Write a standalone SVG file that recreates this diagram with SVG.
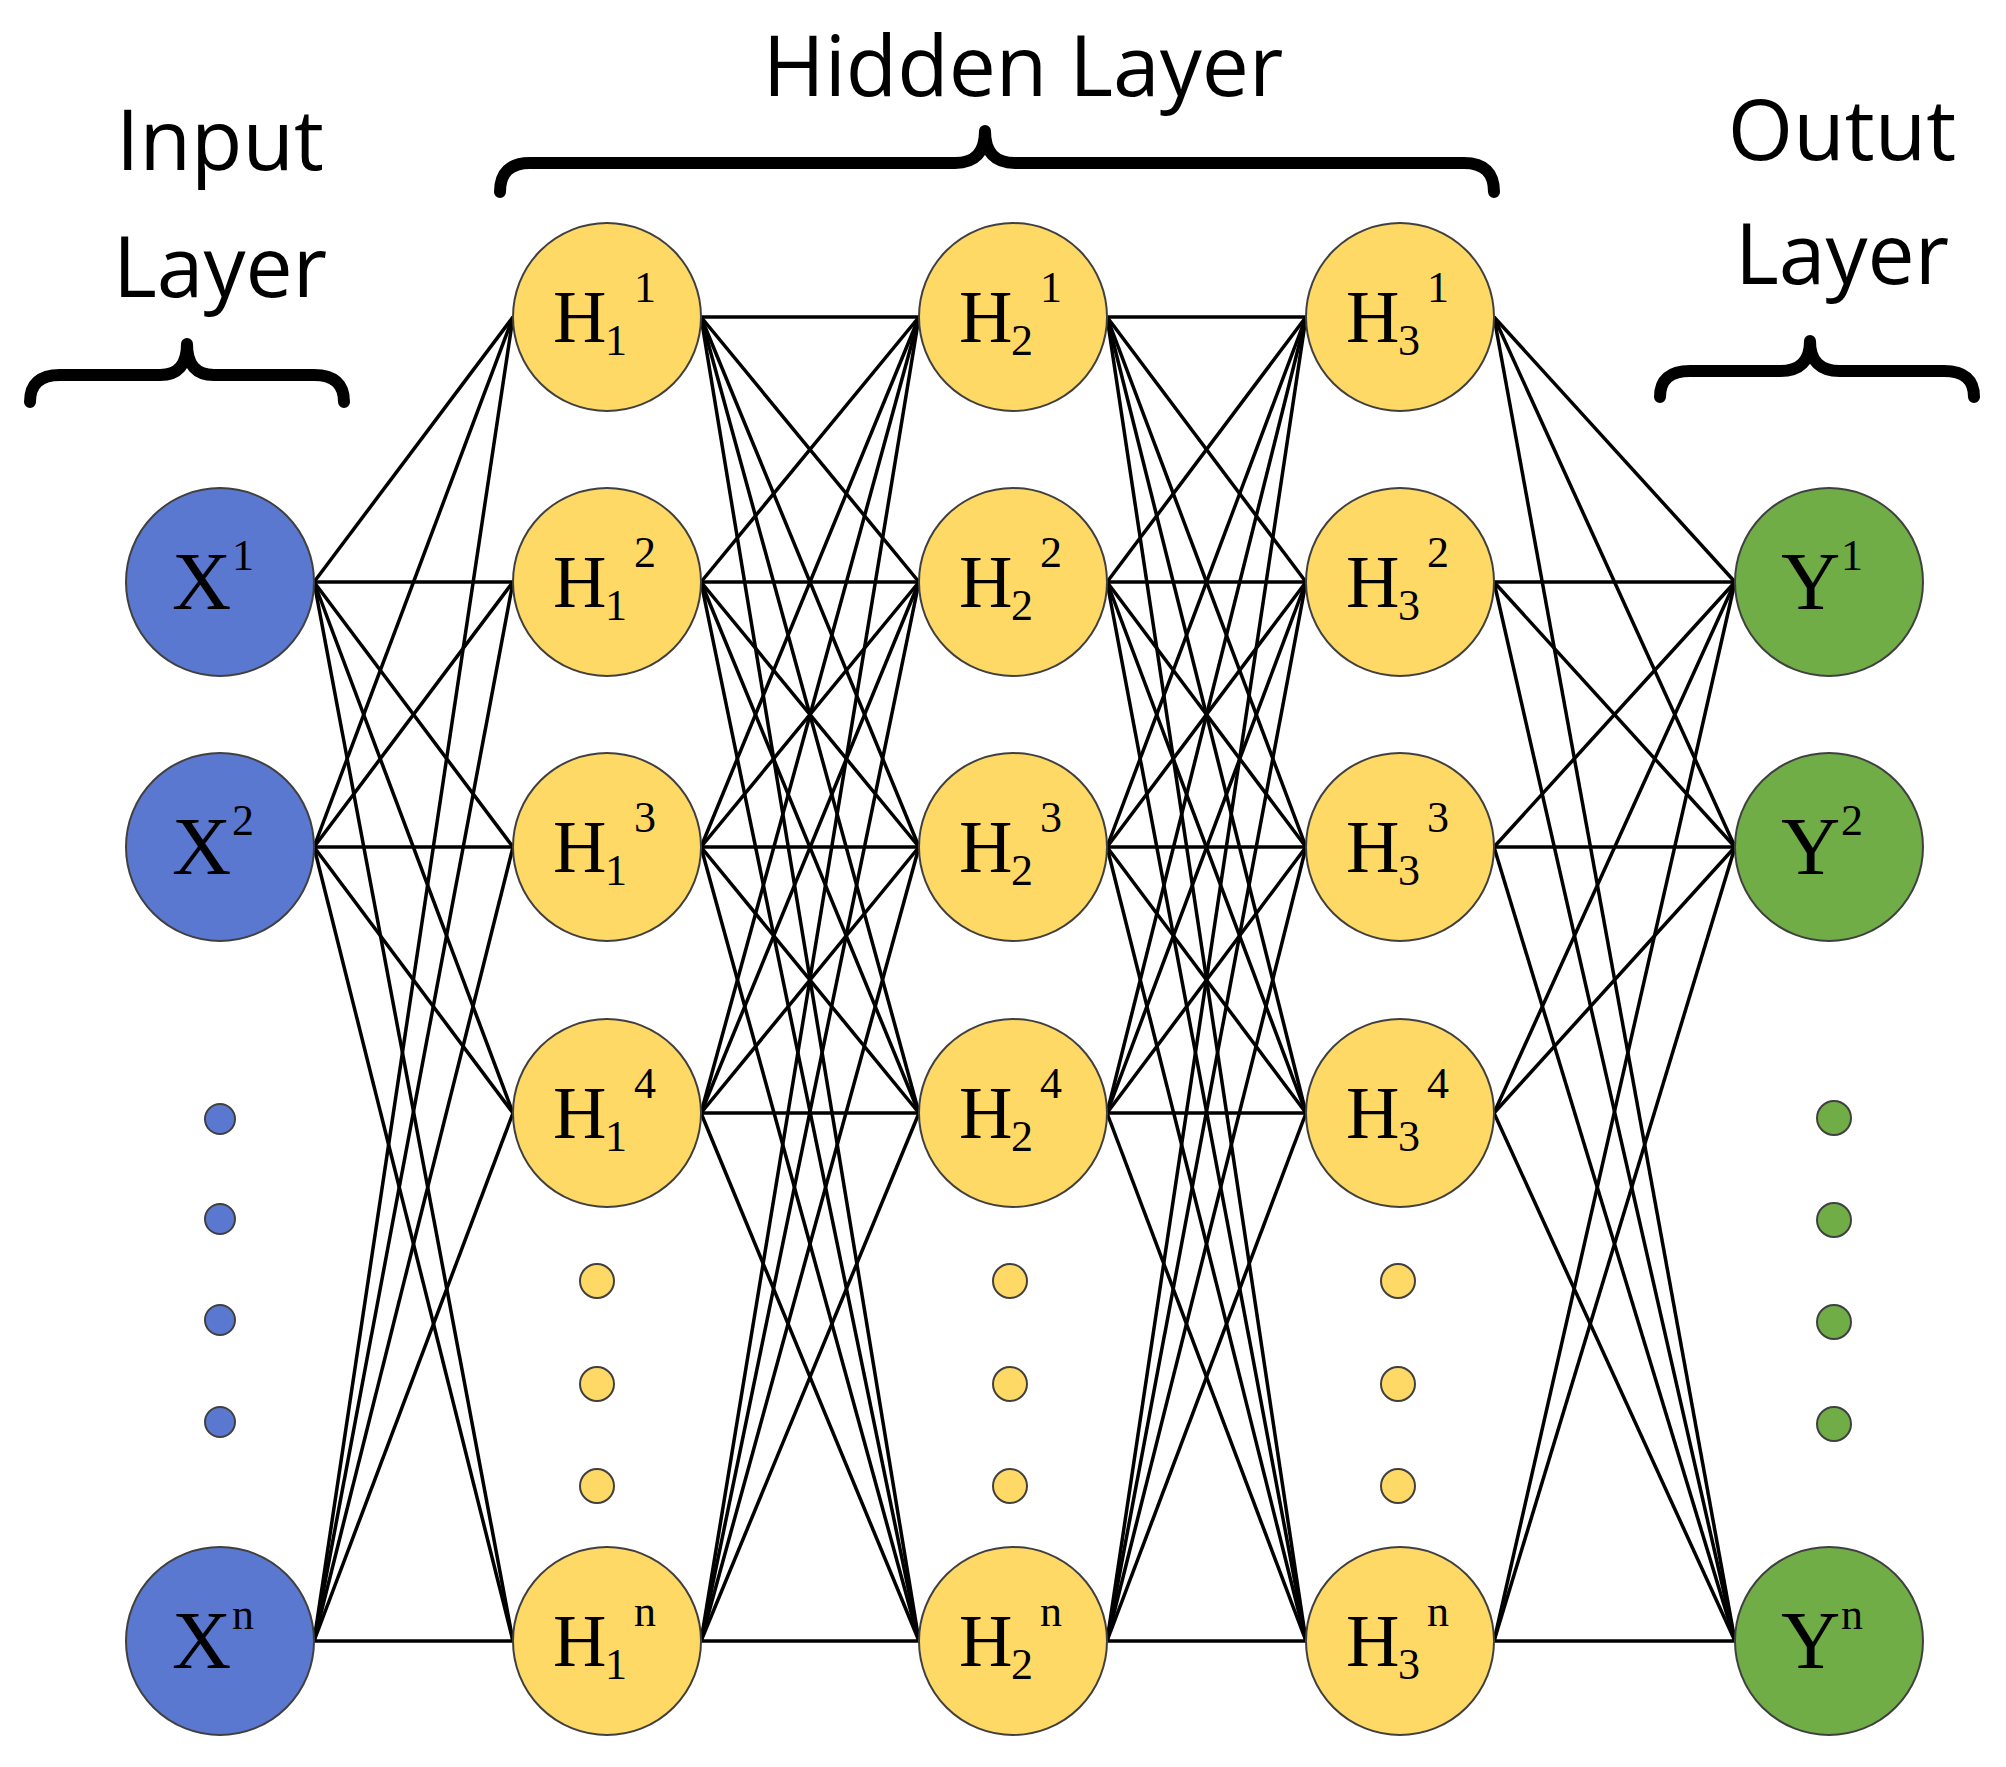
<svg xmlns="http://www.w3.org/2000/svg" width="2006" height="1767" viewBox="0 0 2006 1767">
<style>
.e{stroke:#000;stroke-width:3.5;fill:none}
.n{stroke:#404040;stroke-width:2}
.x{fill:#5B78D0}.h{fill:#FFD966}.y{fill:#70AD47}
.t{font-family:"Liberation Serif",serif;font-size:74px;fill:#000}
.tx{font-family:"Liberation Serif",serif;font-size:82px;fill:#000}
.s{font-family:"Liberation Serif",serif;font-size:44px;fill:#000}
.hd{font-family:"Open Sans","Liberation Sans",sans-serif;font-size:84px;fill:#000;text-anchor:middle}
.br{stroke:#000;stroke-width:12;fill:none;stroke-linecap:round;stroke-linejoin:round}
</style>
<rect width="2006" height="1767" fill="#fff"/>
<g id="headers">
<text class="hd" x="220" y="170">Input</text>
<text class="hd" x="220" y="297">Layer</text>
<text class="hd" x="1023" y="96">Hidden Layer</text>
<text class="hd" x="1842" y="160">Outut</text>
<text class="hd" x="1842" y="284">Layer</text>
<path class="br" d="M30,402 Q30,375 60,375 L160,375 Q187,375 187,344 Q187,375 214,375 L314,375 Q344,375 344,402"/>
<path class="br" d="M500,192 Q500,163 530,163 L955,163 Q985,163 985,131 Q985,163 1015,163 L1464,163 Q1494,163 1494,192"/>
<path class="br" d="M1660,397 Q1660,371 1690,371 L1780,371 Q1810,371 1810,341 Q1810,371 1840,371 L1944,371 Q1974,371 1974,397"/>
</g>
<g id="connectors">
<line class="e" x1="314" y1="582" x2="513" y2="317"/><line class="e" x1="314" y1="582" x2="513" y2="582"/><line class="e" x1="314" y1="582" x2="513" y2="847"/><line class="e" x1="314" y1="582" x2="513" y2="1113"/><line class="e" x1="314" y1="582" x2="513" y2="1641"/>
<line class="e" x1="314" y1="847" x2="513" y2="317"/><line class="e" x1="314" y1="847" x2="513" y2="582"/><line class="e" x1="314" y1="847" x2="513" y2="847"/><line class="e" x1="314" y1="847" x2="513" y2="1113"/><line class="e" x1="314" y1="847" x2="513" y2="1641"/>
<line class="e" x1="314" y1="1641" x2="513" y2="317"/><line class="e" x1="314" y1="1641" x2="513" y2="582"/><line class="e" x1="314" y1="1641" x2="513" y2="847"/><line class="e" x1="314" y1="1641" x2="513" y2="1113"/><line class="e" x1="314" y1="1641" x2="513" y2="1641"/>
<line class="e" x1="701" y1="317" x2="919" y2="317"/><line class="e" x1="701" y1="317" x2="919" y2="582"/><line class="e" x1="701" y1="317" x2="919" y2="847"/><line class="e" x1="701" y1="317" x2="919" y2="1113"/><line class="e" x1="701" y1="317" x2="919" y2="1641"/>
<line class="e" x1="701" y1="582" x2="919" y2="317"/><line class="e" x1="701" y1="582" x2="919" y2="582"/><line class="e" x1="701" y1="582" x2="919" y2="847"/><line class="e" x1="701" y1="582" x2="919" y2="1113"/><line class="e" x1="701" y1="582" x2="919" y2="1641"/>
<line class="e" x1="701" y1="847" x2="919" y2="317"/><line class="e" x1="701" y1="847" x2="919" y2="582"/><line class="e" x1="701" y1="847" x2="919" y2="847"/><line class="e" x1="701" y1="847" x2="919" y2="1113"/><line class="e" x1="701" y1="847" x2="919" y2="1641"/>
<line class="e" x1="701" y1="1113" x2="919" y2="317"/><line class="e" x1="701" y1="1113" x2="919" y2="582"/><line class="e" x1="701" y1="1113" x2="919" y2="847"/><line class="e" x1="701" y1="1113" x2="919" y2="1113"/><line class="e" x1="701" y1="1113" x2="919" y2="1641"/>
<line class="e" x1="701" y1="1641" x2="919" y2="317"/><line class="e" x1="701" y1="1641" x2="919" y2="582"/><line class="e" x1="701" y1="1641" x2="919" y2="847"/><line class="e" x1="701" y1="1641" x2="919" y2="1113"/><line class="e" x1="701" y1="1641" x2="919" y2="1641"/>
<line class="e" x1="1107" y1="317" x2="1306" y2="317"/><line class="e" x1="1107" y1="317" x2="1306" y2="582"/><line class="e" x1="1107" y1="317" x2="1306" y2="847"/><line class="e" x1="1107" y1="317" x2="1306" y2="1113"/><line class="e" x1="1107" y1="317" x2="1306" y2="1641"/>
<line class="e" x1="1107" y1="582" x2="1306" y2="317"/><line class="e" x1="1107" y1="582" x2="1306" y2="582"/><line class="e" x1="1107" y1="582" x2="1306" y2="847"/><line class="e" x1="1107" y1="582" x2="1306" y2="1113"/><line class="e" x1="1107" y1="582" x2="1306" y2="1641"/>
<line class="e" x1="1107" y1="847" x2="1306" y2="317"/><line class="e" x1="1107" y1="847" x2="1306" y2="582"/><line class="e" x1="1107" y1="847" x2="1306" y2="847"/><line class="e" x1="1107" y1="847" x2="1306" y2="1113"/><line class="e" x1="1107" y1="847" x2="1306" y2="1641"/>
<line class="e" x1="1107" y1="1113" x2="1306" y2="317"/><line class="e" x1="1107" y1="1113" x2="1306" y2="582"/><line class="e" x1="1107" y1="1113" x2="1306" y2="847"/><line class="e" x1="1107" y1="1113" x2="1306" y2="1113"/><line class="e" x1="1107" y1="1113" x2="1306" y2="1641"/>
<line class="e" x1="1107" y1="1641" x2="1306" y2="317"/><line class="e" x1="1107" y1="1641" x2="1306" y2="582"/><line class="e" x1="1107" y1="1641" x2="1306" y2="847"/><line class="e" x1="1107" y1="1641" x2="1306" y2="1113"/><line class="e" x1="1107" y1="1641" x2="1306" y2="1641"/>
<line class="e" x1="1494" y1="317" x2="1735" y2="582"/><line class="e" x1="1494" y1="317" x2="1735" y2="847"/><line class="e" x1="1494" y1="317" x2="1735" y2="1641"/>
<line class="e" x1="1494" y1="582" x2="1735" y2="582"/><line class="e" x1="1494" y1="582" x2="1735" y2="847"/><line class="e" x1="1494" y1="582" x2="1735" y2="1641"/>
<line class="e" x1="1494" y1="847" x2="1735" y2="582"/><line class="e" x1="1494" y1="847" x2="1735" y2="847"/><line class="e" x1="1494" y1="847" x2="1735" y2="1641"/>
<line class="e" x1="1494" y1="1113" x2="1735" y2="582"/><line class="e" x1="1494" y1="1113" x2="1735" y2="847"/><line class="e" x1="1494" y1="1113" x2="1735" y2="1641"/>
<line class="e" x1="1494" y1="1641" x2="1735" y2="582"/><line class="e" x1="1494" y1="1641" x2="1735" y2="847"/><line class="e" x1="1494" y1="1641" x2="1735" y2="1641"/>
</g>
<g id="X1"><circle class="n x" cx="220" cy="582" r="94"/><text class="tx" x="172" y="609">X</text><text class="s" x="232" y="570" font-size="36">1</text></g>
<g id="X2"><circle class="n x" cx="220" cy="847" r="94"/><text class="tx" x="172" y="874">X</text><text class="s" x="232" y="835" font-size="36">2</text></g>
<g id="Xn"><circle class="n x" cx="220" cy="1641" r="94"/><text class="tx" x="172" y="1668">X</text><text class="s" x="232" y="1629" font-size="36">n</text></g>
<g id="Xdots" class="n x"><circle cx="220" cy="1119" r="15"/><circle cx="220" cy="1219" r="15"/><circle cx="220" cy="1320" r="15"/><circle cx="220" cy="1422" r="15"/></g>
<g id="H1_1"><circle class="n h" cx="607" cy="317" r="94"/><text class="t" x="553" y="342">H</text><text class="s" x="605" y="355">1</text><text class="s" x="634" y="302">1</text></g>
<g id="H1_2"><circle class="n h" cx="607" cy="582" r="94"/><text class="t" x="553" y="607">H</text><text class="s" x="605" y="620">1</text><text class="s" x="634" y="567">2</text></g>
<g id="H1_3"><circle class="n h" cx="607" cy="847" r="94"/><text class="t" x="553" y="872">H</text><text class="s" x="605" y="885">1</text><text class="s" x="634" y="832">3</text></g>
<g id="H1_4"><circle class="n h" cx="607" cy="1113" r="94"/><text class="t" x="553" y="1138">H</text><text class="s" x="605" y="1151">1</text><text class="s" x="634" y="1098">4</text></g>
<g id="H1_n"><circle class="n h" cx="607" cy="1641" r="94"/><text class="t" x="553" y="1666">H</text><text class="s" x="605" y="1679">1</text><text class="s" x="634" y="1626">n</text></g>
<g id="H1dots" class="n h"><circle cx="597" cy="1281" r="17"/><circle cx="597" cy="1384" r="17"/><circle cx="597" cy="1486" r="17"/></g>
<g id="H2_1"><circle class="n h" cx="1013" cy="317" r="94"/><text class="t" x="959" y="342">H</text><text class="s" x="1011" y="355">2</text><text class="s" x="1040" y="302">1</text></g>
<g id="H2_2"><circle class="n h" cx="1013" cy="582" r="94"/><text class="t" x="959" y="607">H</text><text class="s" x="1011" y="620">2</text><text class="s" x="1040" y="567">2</text></g>
<g id="H2_3"><circle class="n h" cx="1013" cy="847" r="94"/><text class="t" x="959" y="872">H</text><text class="s" x="1011" y="885">2</text><text class="s" x="1040" y="832">3</text></g>
<g id="H2_4"><circle class="n h" cx="1013" cy="1113" r="94"/><text class="t" x="959" y="1138">H</text><text class="s" x="1011" y="1151">2</text><text class="s" x="1040" y="1098">4</text></g>
<g id="H2_n"><circle class="n h" cx="1013" cy="1641" r="94"/><text class="t" x="959" y="1666">H</text><text class="s" x="1011" y="1679">2</text><text class="s" x="1040" y="1626">n</text></g>
<g id="H2dots" class="n h"><circle cx="1010" cy="1281" r="17"/><circle cx="1010" cy="1384" r="17"/><circle cx="1010" cy="1486" r="17"/></g>
<g id="H3_1"><circle class="n h" cx="1400" cy="317" r="94"/><text class="t" x="1346" y="342">H</text><text class="s" x="1398" y="355">3</text><text class="s" x="1427" y="302">1</text></g>
<g id="H3_2"><circle class="n h" cx="1400" cy="582" r="94"/><text class="t" x="1346" y="607">H</text><text class="s" x="1398" y="620">3</text><text class="s" x="1427" y="567">2</text></g>
<g id="H3_3"><circle class="n h" cx="1400" cy="847" r="94"/><text class="t" x="1346" y="872">H</text><text class="s" x="1398" y="885">3</text><text class="s" x="1427" y="832">3</text></g>
<g id="H3_4"><circle class="n h" cx="1400" cy="1113" r="94"/><text class="t" x="1346" y="1138">H</text><text class="s" x="1398" y="1151">3</text><text class="s" x="1427" y="1098">4</text></g>
<g id="H3_n"><circle class="n h" cx="1400" cy="1641" r="94"/><text class="t" x="1346" y="1666">H</text><text class="s" x="1398" y="1679">3</text><text class="s" x="1427" y="1626">n</text></g>
<g id="H3dots" class="n h"><circle cx="1398" cy="1281" r="17"/><circle cx="1398" cy="1384" r="17"/><circle cx="1398" cy="1486" r="17"/></g>
<g id="Y1"><circle class="n y" cx="1829" cy="582" r="94"/><text class="tx" x="1781" y="609">Y</text><text class="s" x="1841" y="570" font-size="36">1</text></g>
<g id="Y2"><circle class="n y" cx="1829" cy="847" r="94"/><text class="tx" x="1781" y="874">Y</text><text class="s" x="1841" y="835" font-size="36">2</text></g>
<g id="Yn"><circle class="n y" cx="1829" cy="1641" r="94"/><text class="tx" x="1781" y="1668">Y</text><text class="s" x="1841" y="1629" font-size="36">n</text></g>
<g id="Ydots" class="n y"><circle cx="1834" cy="1118" r="17"/><circle cx="1834" cy="1220" r="17"/><circle cx="1834" cy="1322" r="17"/><circle cx="1834" cy="1424" r="17"/></g>
</svg>
